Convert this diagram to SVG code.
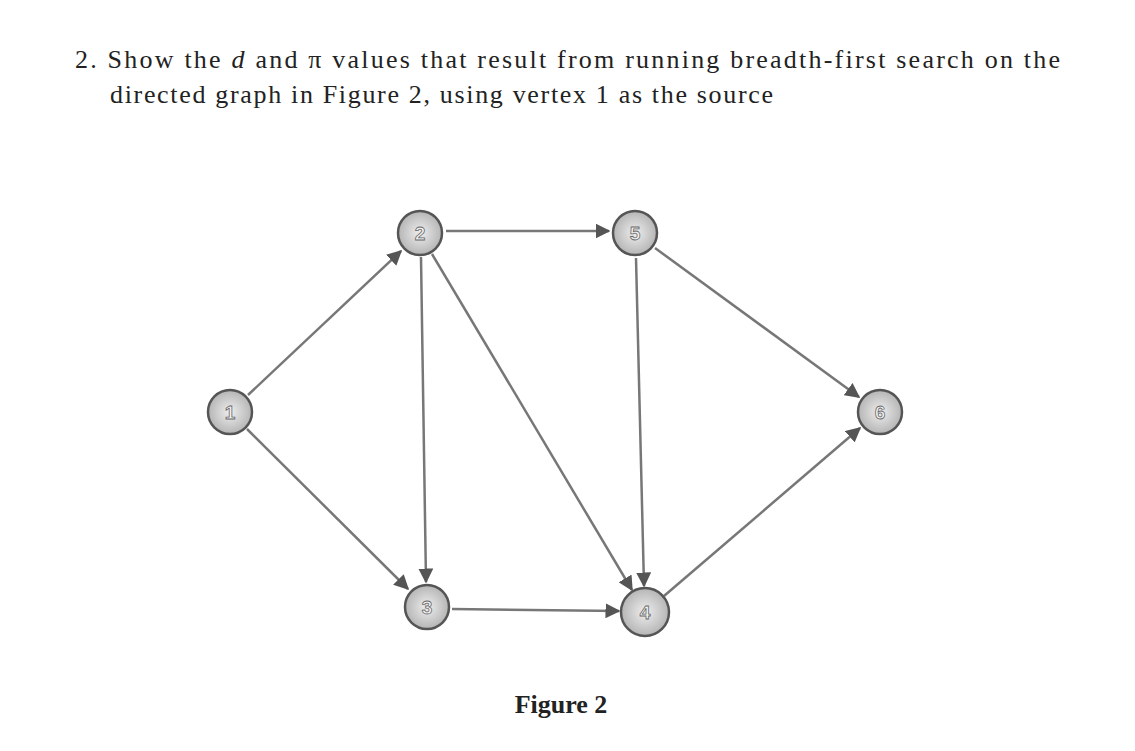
<svg xmlns="http://www.w3.org/2000/svg" width="1135" height="751" viewBox="0 0 1135 751">
<style>
.t{font-family:"Liberation Serif","DejaVu Serif",serif;font-size:26px;fill:#222}
.n circle{fill:url(#g);stroke:#555;stroke-width:2.5}
.n text{font-family:"Liberation Sans",sans-serif;font-size:19px;font-weight:bold;fill:#f4f4f4;stroke:#666;stroke-width:0.8;text-anchor:middle}
.e line{stroke:#777;stroke-width:2.5;marker-end:url(#a)}
</style>
<defs>
<radialGradient id="g"><stop offset="0" stop-color="#eee"/><stop offset="1" stop-color="#b5b5b5"/></radialGradient>
<marker id="a" viewBox="0 0 10 10" refX="9" refY="5" markerWidth="6" markerHeight="6" orient="auto" markerUnits="strokeWidth"><path d="M0,0L10,5L0,10z" fill="#555"/></marker>
</defs>
<rect width="1135" height="751" fill="#fff"/>
<text class="t" x="75" y="68" textLength="985" lengthAdjust="spacing">2. Show the <tspan font-style="italic">d</tspan> and π values that result from running breadth-first search on the</text>
<text class="t" x="110" y="103" textLength="663" lengthAdjust="spacing">directed graph in Figure 2, using vertex 1 as the source</text>
<g class="e">
<line x1="248" y1="395" x2="401" y2="251"/>
<line x1="247" y1="429" x2="408" y2="589"/>
<line x1="446" y1="231" x2="609" y2="231"/>
<line x1="421" y1="257" x2="426" y2="582"/>
<line x1="432" y1="254" x2="632" y2="590"/>
<line x1="636" y1="258" x2="644" y2="586"/>
<line x1="655" y1="248" x2="859" y2="397"/>
<line x1="452" y1="609" x2="619" y2="611"/>
<line x1="664" y1="596" x2="860" y2="428"/>
</g>
<g id="n1" class="n"><circle cx="230" cy="412" r="22"/><text x="230" y="419">1</text></g>
<g id="n2" class="n"><circle cx="420" cy="233" r="22"/><text x="420" y="240">2</text></g>
<g id="n5" class="n"><circle cx="635" cy="233" r="22"/><text x="635" y="240">5</text></g>
<g id="n6" class="n"><circle cx="880" cy="412" r="22"/><text x="880" y="419">6</text></g>
<g id="n3" class="n"><circle cx="427" cy="607" r="22"/><text x="427" y="614">3</text></g>
<g id="n4" class="n"><circle cx="645" cy="612" r="24"/><text x="645" y="619">4</text></g>
<text class="t" x="561" y="713" text-anchor="middle" font-weight="bold" font-size="24">Figure 2</text>
</svg>
